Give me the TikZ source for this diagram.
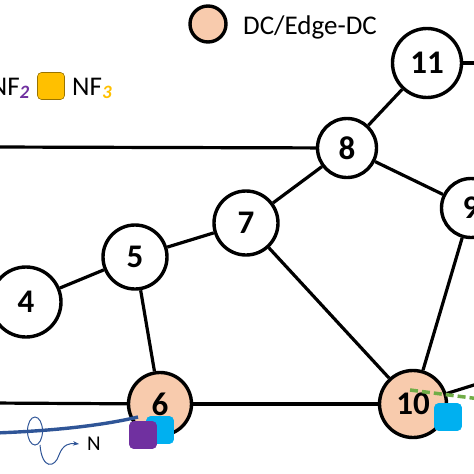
\documentclass[tikz,border=0pt]{standalone}
\usepackage{fontspec}
\setmainfont{Carlito}
\usetikzlibrary{arrows.meta}
\definecolor{dcpeach}{HTML}{F8CBAD}
\definecolor{nfyellow}{HTML}{FFC000}
\definecolor{nfpurple}{HTML}{7030A0}
\definecolor{nfcyan}{HTML}{00B0F0}
\definecolor{flowblue}{HTML}{2F5597}
\definecolor{pathgreen}{HTML}{70AD47}
\tikzset{
  router/.style={
    shape = circle,
    draw,
    fill = white,
    line width = 3.4pt,
    inner sep = 0pt,
    font = \fontsize{33}{36}\selectfont\bfseries
  },
  dc/.style={
    router,
    fill = dcpeach
  },
  nf/.style={
    shape = rectangle,
    rounded corners = 4pt,
    draw,
    line width = 0.6pt,
    inner sep = 0pt,
    minimum width = 27pt,
    minimum height = 27pt
  },
  link/.style={
    line width = 3.2pt
  },
  legend/.style={
    font = \fontsize{27}{30}\selectfont,
    inner sep = 0pt
  }
}

\begin{document}
\begin{tikzpicture}[x=1pt,y=-1pt]
    \useasboundingbox (0,0) rectangle (474,474);

    % legend
    \node[dc, minimum size=36pt] (legdc) at (208,24) {};
    \node[legend, anchor=west] (legdctxt) at (243,27) {DC/Edge-DC};
    \node[legend, anchor=base east] (legnftwo) at (30,95) {NF\textsubscript{\color{nfpurple}\bfseries\itshape 2}};
    \node[nf, fill=nfyellow, draw=nfyellow!60!black] (legnfthree) at (51,86) {};
    \node[legend, anchor=base west] (legnfthreetxt) at (72,95) {NF\textsubscript{\color{nfyellow}\bfseries\itshape 3}};

    % routers
    \node[router, minimum size=70pt] (n4) at (26,302) {4};
    \node[router, minimum size=64pt] (n5) at (135,257) {5};
    \node[dc, minimum size=63pt] (n6) at (160,404) {6};
    \node[router, minimum size=64pt] (n7) at (246,223) {7};
    \node[router, minimum size=59pt] (n8) at (347,148) {8};
    \node[router, minimum size=59pt] (n9) at (471,208) {9};
    \node[dc, minimum size=67pt] (n10) at (413,404) {10};
    \node[router, minimum size=69pt] (n11) at (427,63) {11};

    % links leaving the frame
    \coordinate (offeight) at (-10,147);
    \coordinate (offsix) at (-10,403);
    \coordinate (offeleven) at (490,63);
    \coordinate (offten) at (490,380);

    \draw[link] (n4) -- (n5);
    \draw[link] (n5) -- (n7);
    \draw[link] (n5) -- (n6);
    \draw[link] (n7) -- (n8);
    \draw[link] (n7) -- (n10);
    \draw[link] (n8) -- (n11);
    \draw[link] (n8) -- (n9);
    \draw[link] (n9) -- (n10);
    \draw[link] (n6) -- (n10);
    \draw[link] (offeight) -- (n8);
    \draw[link] (offsix) -- (n6);
    \draw[link] (n11) -- (offeleven);
    \draw[link] (n10) -- (offten);

    % flow N into node 6
    \coordinate (flowstart) at (-5,433);
    \coordinate (flowend) at (138,417);
    \draw[flowblue, line width=3.4pt] (flowstart) .. controls (50,431) and (100,426) .. (flowend);
    \draw[flowblue, line width=1pt] (35,431) ellipse [x radius=7.5, y radius=14];
    \coordinate (wavystart) at (40,445);
    \node[font=\fontsize{21}{24}\selectfont, inner sep=0pt] (flowlabel) at (94,444) {N};
    \draw[flowblue, line width=1pt, -{Stealth[length=6pt]}] (wavystart) .. controls (42,470) and (55,468) .. (59,455) .. controls (63,444) and (70,443) .. ([xshift=-8pt]flowlabel.west);

    % NFs at node 6
    \node[nf, fill=nfcyan, draw=nfcyan] (nfsixb) at (160,430) {};
    \node[nf, fill=nfpurple, draw=nfpurple] (nfsixa) at (143,435) {};

    % path at node 10
    \coordinate (pathend) at (480,399);
    \draw[pathgreen, line width=3.5pt, dash pattern=on 8pt off 4pt] (410,390) -- (pathend);
    \node[nf, fill=nfcyan, draw=nfcyan] (nften) at (448,417) {};
\end{tikzpicture}
\end{document}
